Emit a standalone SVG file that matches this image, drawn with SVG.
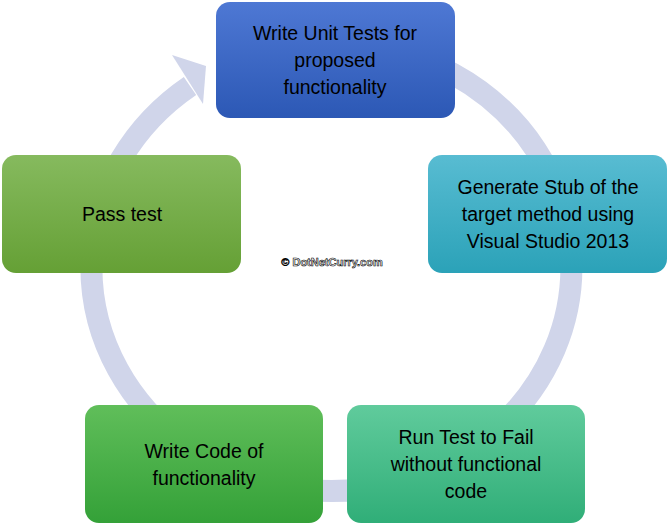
<svg xmlns="http://www.w3.org/2000/svg" width="670" height="525" viewBox="0 0 670 525">
<defs>
<linearGradient id="gB" x1="0" y1="0" x2="0" y2="1"><stop offset="0" stop-color="#4E78D4"/><stop offset="1" stop-color="#2C58B5"/></linearGradient>
<linearGradient id="gT" x1="0" y1="0" x2="0" y2="1"><stop offset="0" stop-color="#58BCD2"/><stop offset="1" stop-color="#2BA2B8"/></linearGradient>
<linearGradient id="gS" x1="0" y1="0" x2="0" y2="1"><stop offset="0" stop-color="#60CB9C"/><stop offset="1" stop-color="#30AE78"/></linearGradient>
<linearGradient id="gG" x1="0" y1="0" x2="0" y2="1"><stop offset="0" stop-color="#60BE5A"/><stop offset="1" stop-color="#34A138"/></linearGradient>
<linearGradient id="gL" x1="0" y1="0" x2="0" y2="1"><stop offset="0" stop-color="#86BA5E"/><stop offset="1" stop-color="#65A035"/></linearGradient>
</defs>
<style>
text{font-family:"Liberation Sans","Open Sans",sans-serif;font-size:19.5px;fill:#000;text-anchor:middle}
.wm{font-size:11px;font-weight:bold;fill:#fff;stroke:#000;stroke-width:0.6px}
</style>
<g id="connectors">
<path d="M354,44 A240,224 0 1 1 190,86" fill="none" stroke="#D0D5EA" stroke-width="22"/>
<polygon points="206,66 172,55 203,104" fill="#D0D5EA"/>
</g>
<g id="n1"><rect x="216" y="2" width="239" height="116" rx="14" fill="url(#gB)"/>
<text x="335" y="40">Write Unit Tests for</text><text x="335" y="67">proposed</text><text x="335" y="94">functionality</text></g>
<g id="n2"><rect x="428" y="155" width="239" height="118" rx="14" fill="url(#gT)"/>
<text x="548" y="194">Generate Stub of the</text><text x="548" y="221">target method using</text><text x="548" y="248">Visual Studio 2013</text></g>
<g id="n3"><rect x="347" y="405" width="238" height="118" rx="14" fill="url(#gS)"/>
<text x="466" y="444">Run Test to Fail</text><text x="466" y="471">without functional</text><text x="466" y="498">code</text></g>
<g id="n4"><rect x="85" y="405" width="238" height="118" rx="14" fill="url(#gG)"/>
<text x="204" y="458">Write Code of</text><text x="204" y="485">functionality</text></g>
<g id="n5"><rect x="2" y="155" width="239" height="118" rx="14" fill="url(#gL)"/>
<text x="122" y="221">Pass test</text></g>
<text class="wm" x="332" y="266">© DotNetCurry.com</text>
</svg>
